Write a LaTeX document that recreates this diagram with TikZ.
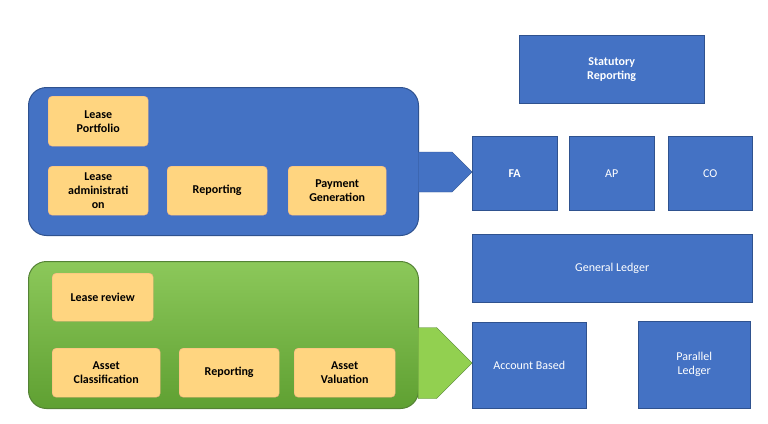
\documentclass[tikz,border=0pt]{standalone}
\usepackage{fontspec}
\setmainfont{Carlito}
\usetikzlibrary{shapes.arrows}
\definecolor{boxblue}{HTML}{4472C4}
\definecolor{edgeblue}{HTML}{2F528F}
\definecolor{tilefill}{HTML}{FFD580}
\definecolor{tileedge}{HTML}{F4B183}
\definecolor{greentop}{HTML}{8CC85A}
\definecolor{greenbot}{HTML}{5FA032}
\definecolor{greenedge}{HTML}{548235}
\definecolor{arrowgreen}{HTML}{92D050}
\tikzset{
sapbox/.style={draw=edgeblue, fill=boxblue, text=white, font=\fontsize{12}{14}\selectfont, align=center, anchor=north west, inner sep=0pt},
tile/.style={draw=tileedge, fill=tilefill, rounded corners=4pt, font=\bfseries\fontsize{12}{14}\selectfont, align=center, anchor=north west, inner sep=0pt},
}
\begin{document}
\begin{tikzpicture}[x=1pt, y=-1pt]
\useasboundingbox (0,0) rectangle (768,423);

% blue panel
\node[draw=edgeblue, line width=1pt, fill=boxblue, rounded corners=18pt, minimum width=390pt, minimum height=148pt, anchor=north west, inner sep=0pt] (leasepanel) at (28,87) {};
\node[tile, minimum width=100pt, minimum height=50pt] (portfolio) at (48,96) {Lease\\Portfolio};
\node[tile, minimum width=100pt, minimum height=49pt] (admin) at (48,166) {Lease\\administrati\\on};
\node[tile, minimum width=100pt, minimum height=49pt] (reporting1) at (167,166) {Reporting};
\node[tile, minimum width=98pt, minimum height=49pt] (payment) at (288,166) {Payment\\Generation};

% green panel
\node[draw=greenedge, line width=1pt, top color=greentop, bottom color=greenbot, rounded corners=18pt, minimum width=390pt, minimum height=147pt, anchor=north west, inner sep=0pt] (reviewpanel) at (28,261) {};
\node[tile, minimum width=101pt, minimum height=48pt] (review) at (52,273) {Lease review};
\node[tile, minimum width=108pt, minimum height=49pt] (classif) at (52,348) {Asset\\Classification};
\node[tile, minimum width=100pt, minimum height=49pt] (reporting2) at (179,348) {Reporting};
\node[tile, minimum width=101pt, minimum height=49pt] (valuation) at (294,348) {Asset\\Valuation};

% SAP side
\node[sapbox, font=\bfseries\fontsize{12}{14}\selectfont, minimum width=185pt, minimum height=68pt] (statutory) at (519,35) {Statutory\\Reporting};
\node[sapbox, font=\bfseries\fontsize{12}{14}\selectfont, minimum width=85pt, minimum height=74pt] (fa) at (472,136) {FA};
\node[sapbox, minimum width=85pt, minimum height=74pt] (ap) at (569,136) {AP};
\node[sapbox, minimum width=84pt, minimum height=74pt] (co) at (668,136) {CO};
\node[sapbox, minimum width=280pt, minimum height=68pt] (ledger) at (472,234) {General Ledger};
\node[sapbox, minimum width=114pt, minimum height=86pt] (account) at (472,322) {Account Based};
\node[sapbox, minimum width=112pt, minimum height=87pt] (parallel) at (638,321) {Parallel\\Ledger};

% arrows
\node[single arrow, draw=edgeblue, fill=boxblue, minimum height=54pt, minimum width=40pt, single arrow head extend=0pt, inner sep=0pt, shape border uses incircle=false, anchor=tail] (bluearrow) at (418,172) {};
\node[single arrow, draw=greenedge, fill=arrowgreen, minimum height=54pt, minimum width=71pt, single arrow head extend=0pt, inner sep=0pt, anchor=tail] (greenarrow) at (418,363) {};
\end{tikzpicture}
\end{document}
